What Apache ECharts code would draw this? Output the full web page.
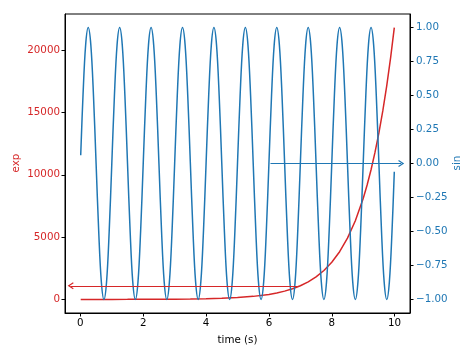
<!DOCTYPE html>
<html>
<head>
<meta charset="utf-8">
<script src="https://cdn.jsdelivr.net/npm/echarts@6/dist/echarts.min.js"></script>
<style>
  html, body { margin: 0; padding: 0; background: #fff; }
  #chart { width: 474px; height: 355px; }
</style>
</head>
<body>
<div id="chart"></div>
<script>
// exp curve
var expTime = [0.01, 0.5, 1, 1.5, 2, 2.5, 3, 3.5, 4, 4.5, 5, 5.5, 6, 6.25, 6.5, 6.75, 7,
  7.25, 7.5, 7.75, 8, 8.25, 8.5, 8.75, 9, 9.125, 9.25, 9.375, 9.5, 9.625, 9.75, 9.875, 9.99];
var expValues = [1, 1.6, 2.7, 4.5, 7.4, 12, 20, 33, 55, 90, 148, 245, 403, 518, 665, 854, 1097,
  1408, 1808, 2322, 2981, 3827, 4915, 6310, 8103, 9182, 10405, 11790, 13360, 15138, 17154, 19438, 21807];

// sin curve, one row per second (samples every 1/12 s)
var sinStep = 1 / 12;
var sinValues = [
  0.06, 0.5, 0.87, 1, 0.87, 0.5, 0, -0.5, -0.87, -1, -0.87, -0.5,
  0, 0.5, 0.87, 1, 0.87, 0.5, 0, -0.5, -0.87, -1, -0.87, -0.5,
  0, 0.5, 0.87, 1, 0.87, 0.5, 0, -0.5, -0.87, -1, -0.87, -0.5,
  0, 0.5, 0.87, 1, 0.87, 0.5, 0, -0.5, -0.87, -1, -0.87, -0.5,
  0, 0.5, 0.87, 1, 0.87, 0.5, 0, -0.5, -0.87, -1, -0.87, -0.5,
  0, 0.5, 0.87, 1, 0.87, 0.5, 0, -0.5, -0.87, -1, -0.87, -0.5,
  0, 0.5, 0.87, 1, 0.87, 0.5, 0, -0.5, -0.87, -1, -0.87, -0.5,
  0, 0.5, 0.87, 1, 0.87, 0.5, 0, -0.5, -0.87, -1, -0.87, -0.5,
  0, 0.5, 0.87, 1, 0.87, 0.5, 0, -0.5, -0.87, -1, -0.87, -0.5,
  0, 0.5, 0.87, 1, 0.87, 0.5, 0, -0.5, -0.87, -1, -0.87, -0.5,
  -0.06
];

var xTicks = [0, 2, 4, 6, 8, 10];
var expTicks = [0, 5000, 10000, 15000, 20000];
var sinTicks = [-1, -0.75, -0.5, -0.25, 0, 0.25, 0.5, 0.75, 1];

// annotations: [from, to]
var expArrow = [[6.9, 1097], [-0.31, 1097]];
var sinArrow = [[6.05, 0], [10.21, 0]];

var red = '#d62728';
var blue = '#1f77b4';
var font = 'DejaVu Sans';
// open "->" style head, drawn as a thin chevron
var openHead = 'path://M5,0 L10,8.5 L8.6,9.5 L5,3.4 L1.4,9.5 L0,8.5 Z';

var expData = expTime.map(function (t, i) { return [t, expValues[i]]; });
var sinData = sinValues.map(function (v, i) {
  var t = Math.min(Math.max(i * sinStep, 0.01), 9.99);
  return [t, v];
});

var plainFmt = function (v) { return String(v); };
var minusFmt = function (v) {
  return v.toFixed(2).replace('-', '\u2212');
};

var arrowLine = function (color, pts) {
  return {
    silent: true,
    symbol: ['none', openHead],
    symbolSize: [7, 6],
    label: {show: false},
    itemStyle: {color: color},
    lineStyle: {color: color, width: 1, type: 'solid'},
    data: [[{coord: pts[0]}, {coord: pts[1]}]]
  };
};

// rotated axis titles
var axisTitle = function (text, x, color) {
  return {
    type: 'text', x: x, y: 163, rotation: Math.PI / 2,
    style: {text: text, fill: color, font: '10.3px "DejaVu Sans"', align: 'center', verticalAlign: 'middle'}
  };
};

var chart = echarts.init(document.getElementById('chart'), null, {renderer: 'canvas'});
chart.setOption({
  animation: false,
  textStyle: {fontFamily: font},
  grid: {
    left: 65, right: 64, top: 14, bottom: 42,
    outerBoundsMode: 'none',
    containLabel: false,
    show: true, borderColor: '#000', borderWidth: 1
  },
  graphic: [axisTitle('exp', 16, red), axisTitle('sin', 457, blue)],
  xAxis: {
    type: 'value',
    min: -0.4895, max: 10.4895,
    name: 'time (s)', nameLocation: 'middle', nameGap: 22,
    nameTextStyle: {color: '#000', fontSize: 10.3, fontFamily: font},
    axisLine: {onZero: false, lineStyle: {color: '#000', width: 1}},
    axisTick: {customValues: xTicks, length: 3.5, lineStyle: {color: '#000'}},
    axisLabel: {customValues: xTicks, color: '#000', fontSize: 10.3, margin: 5,
      fontFamily: font, formatter: plainFmt},
    splitLine: {show: false}
  },
  yAxis: [{
    type: 'value',
    min: -1089, max: 22897,
    axisLine: {show: true, onZero: false, lineStyle: {color: '#000', width: 1}},
    axisTick: {show: true, customValues: expTicks, length: 3.5, lineStyle: {color: '#000'}},
    axisLabel: {customValues: expTicks, color: red, fontSize: 10.3, margin: 5,
      fontFamily: font, formatter: plainFmt},
    splitLine: {show: false}
  }, {
    type: 'value',
    position: 'right',
    min: -1.1, max: 1.1,
    axisLine: {show: true, onZero: false, lineStyle: {color: '#000', width: 1}},
    axisTick: {show: true, customValues: sinTicks, length: 3.5, lineStyle: {color: '#000'}},
    axisLabel: {customValues: sinTicks, color: blue, fontSize: 10.3, margin: 6,
      fontFamily: font, formatter: minusFmt},
    splitLine: {show: false}
  }],
  series: [{
    type: 'line',
    yAxisIndex: 0,
    data: expData,
    showSymbol: false,
    lineStyle: {color: red, width: 1.5},
    markLine: arrowLine(red, expArrow)
  }, {
    type: 'line',
    yAxisIndex: 1,
    data: sinData,
    showSymbol: false,
    smooth: 0.35,
    lineStyle: {color: blue, width: 1.5},
    markLine: arrowLine(blue, sinArrow)
  }]
});
</script>
</body>
</html>
